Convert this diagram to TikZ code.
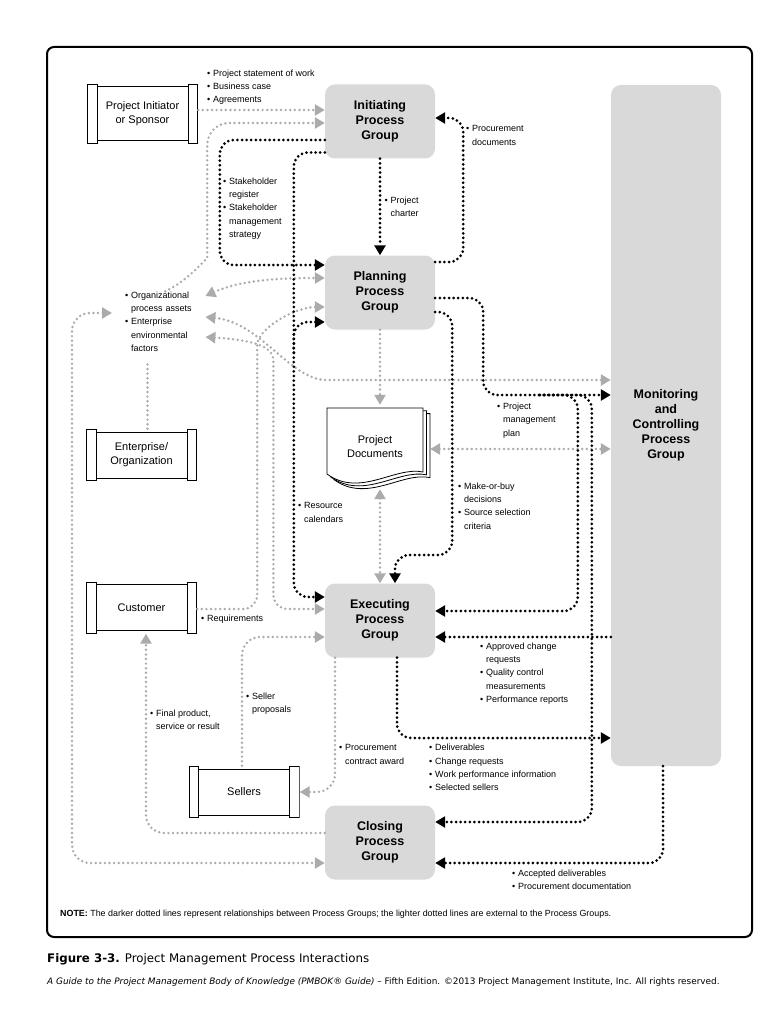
\documentclass[tikz,border=0pt]{standalone}
\usepackage{fontspec}
\setmainfont{Liberation Sans}
\newfontfamily\capfont{DejaVu Sans}
\usetikzlibrary{arrows.meta}
\newcommand{\bul}{\makebox[6pt][l]{\textbullet}}
\newcommand{\skp}{\hspace*{6pt}}
\tikzstyle{group} = [rectangle, rounded corners=10pt, minimum width=110pt, minimum height=74pt, align=center, fill=black!15, font=\bfseries\fontsize{12.5}{15}\selectfont]
\tikzstyle{entity} = [rectangle, minimum width=111pt, minimum height=52pt, align=center, fill=white, font=\fontsize{11}{14}\selectfont, path picture={
  \draw[line width=1pt] ([xshift=0.5pt,yshift=-0.5pt]path picture bounding box.north west) rectangle ([xshift=10pt,yshift=0.5pt]path picture bounding box.south west);
  \draw[line width=1pt] ([xshift=-0.5pt,yshift=-0.5pt]path picture bounding box.north east) rectangle ([xshift=-10pt,yshift=0.5pt]path picture bounding box.south east);
  \draw[line width=1pt] ([xshift=10pt,yshift=-3pt]path picture bounding box.north west) rectangle ([xshift=-10pt,yshift=3pt]path picture bounding box.south east);}]
\tikzstyle{lbl} = [anchor=west, align=left, inner sep=0pt, font=\fontsize{9}{13.3}\selectfont]
\tikzstyle{link} = [line width=3pt, dash pattern=on 0pt off 4.6pt, line cap=round, rounded corners=14pt, ->]
\tikzstyle{extlink} = [link, draw=black!33, line width=2.7pt]

\begin{document}
\begin{tikzpicture}[x=1pt, y=-1pt, >={Triangle[length=10pt,width=11pt]}]
\useasboundingbox (0,0) rectangle (768,1024);
\draw [line width=2pt, rounded corners=7pt] (47,47) rectangle (752,937);

% process groups
\node (0) [group] at (380,121.5) {Initiating\\Process\\Group};
\node (1) [group] at (380,292.5) {Planning\\Process\\Group};
\node (2) [group] at (380,620.5) {Executing\\Process\\Group};
\node (3) [group] at (380,842.5) {Closing\\Process\\Group};
\node (4) [group, minimum height=681pt] at (666,425.5) {Monitoring\\and\\Controlling\\Process\\Group};

% outside the groups
\node (5) [entity, minimum height=60pt] at (142.5,114) {Project Initiator\\or Sponsor};
\node (6) [entity] at (141.5,455) {Enterprise/\\Organization};
\node (7) [entity] at (141.5,607.5) {Customer};
\node (8) [entity] at (244,792) {Sellers};
\node (9) [lbl, text width=70pt] at (125,321.5) {\bul Organizational\\\skp process assets\\\bul Enterprise\\\skp environmental\\\skp factors};

\foreach \s in {7,3.5,0}
  \draw [fill=white, line width=0.8pt] (327+\s,408+0.8*\s) -- ++(96,0) -- ++(0,64) .. controls +(-28,-6) and +(33,24) .. ++(-96,2) -- cycle;
\node (10) [minimum width=96pt, minimum height=84pt, align=center, font=\fontsize{11}{14}\selectfont] at (375,447) {Project\\Documents};

% lighter lines
\draw [extlink] ([yshift=4pt]5.east) -- ([yshift=11.5pt]0.west);
\node [lbl] at (207,87) {\bul Project statement of work\\\bul Business case\\\bul Agreements};
\draw [extlink, rounded corners=22pt] ([xshift=5pt]9.north) .. controls +(25,-12) and +(0,20) .. ++(42,-55) |- ([yshift=-1.5pt]0.west);
\draw [extlink, <->] ([xshift=10pt,yshift=25.5pt]9.east) .. controls +(35,-16) and +(-45,0) .. ([yshift=14.5pt]1.west);
\draw [extlink, <->] ([xshift=10pt,yshift=4.5pt]9.east) .. controls +(55,5) and +(-50,0) .. ++(135,63) -- ([yshift=45.5pt]4.west);
\draw [extlink, <->] ([xshift=10pt,yshift=-15.5pt]9.east) .. controls +(45,3) and +(0,-30) .. ++(68,38) |- ([yshift=11.5pt]2.west);
\draw [extlink] ([yshift=-1.5pt]7.east) -- ++(60,0) -- ++(0,-250) .. controls +(0,-30) and +(-30,0) .. ([yshift=-14.5pt]1.west);
\node [lbl] at (201,619) {\bul Requirements};
\draw [extlink, <->, rounded corners=18pt] ([xshift=-13pt,yshift=8.5pt]9.west) -| ++(-40,200) |- ([yshift=-20.5pt]3.west);
\draw [extlink, rounded corners=18pt] ([yshift=9.5pt]3.west) -| ([xshift=4.5pt]7.south);
\node [lbl] at (150,719.5) {\bul Final product,\\\skp service or result};
\draw [extlink, rounded corners=18pt] ([xshift=-2pt]8.north) |- ([yshift=-16.5pt]2.west);
\node [lbl] at (246,703.5) {\bul Seller\\\skp proposals};
\draw [extlink, rounded corners=18pt] ([xshift=-45pt]2.south) |- (8.east);
\node [lbl] at (339,754.5) {\bul Procurement\\\skp contract award};
\draw [extlink] (1.south) -- (1.south |- 10.north);
\draw [extlink, <->] (2.north |- 10.south) -- (2.north);
\draw [extlink, <->] ([xshift=7pt,yshift=-2pt]10.east) -- ([yshift=-23.5pt]4.west);
\draw [extlink, -] ([xshift=6pt]6.north) -- ++(0,-68);

% darker lines
\draw [link] (0) -- (1) node [lbl, midway, xshift=3pt] {\bul Project\\\skp charter};
\draw [link] ([yshift=-18.5pt]0.west) -- ++(-105,0) |- ([yshift=27.5pt]1.west);
\node [lbl] at (223,208.5) {\bul Stakeholder\\\skp register\\\bul Stakeholder\\\skp management\\\skp strategy};
\draw [link] ([yshift=-31pt]0.west) -- ++(-31,0) |- ([yshift=23.5pt]2.west);
\coordinate (rc) at ([xshift=-31pt,yshift=-60pt]1.west);
\draw [link] (rc) |- ([yshift=-29.5pt]1.west);
\node [lbl] at (298,512.5) {\bul Resource\\\skp calendars};
\draw [link] ([yshift=30.5pt]1.east) -- ++(28,0) |- ([yshift=3.5pt]0.east);
\node [lbl] at (466,135.5) {\bul Procurement\\\skp documents};
\draw [link] ([yshift=-5.5pt]1.east) -- ++(48,0) |- ([yshift=30.5pt]4.west);
\node [lbl] at (497,420.5) {\bul Project\\\skp management\\\skp plan};
\coordinate (pm) at ([xshift=-71pt,yshift=30.5pt]4.west);
\draw [link] (pm) -- ++(38,0) |- ([yshift=9.5pt]2.east);
\draw [link] (pm) -- ++(52,0) |- ([yshift=20.5pt]3.east);
\draw [link] ([yshift=-19.5pt]1.east) -- ++(17,0) -- ++(0,243) -| ([xshift=15pt]2.north);
\node [lbl] at (458,506) {\bul Make-or-buy\\\skp decisions\\\bul Source selection\\\skp criteria};
\draw [link] ([yshift=-211.5pt]4.west) -- ([yshift=-16.5pt]2.east);
\node [lbl] at (480,673.5) {\bul Approved change\\\skp requests\\\bul Quality control\\\skp measurements\\\bul Performance reports};
\draw [link] ([xshift=17pt]2.south) |- ([yshift=-312.5pt]4.west);
\node [lbl] at (429,767.5) {\bul Deliverables\\\bul Change requests\\\bul Work performance information\\\bul Selected sellers};
\draw [link] ([xshift=-3pt]4.south) |- ([yshift=-20.5pt]3.east);
\node [lbl] at (512,879.5) {\bul Accepted deliverables\\\bul Procurement documentation};

% note and caption
\node (11) [lbl, font=\fontsize{8.9}{10}\selectfont] at (60,914) {\textbf{NOTE:} The darker dotted lines represent relationships between Process Groups; the lighter dotted lines are external to the Process Groups.};
\node (12) [lbl, font=\capfont\fontsize{11.8}{14}\selectfont] at (47,959) {\textbf{Figure 3-3.} Project Management Process Interactions};
\node (13) [lbl, font=\capfont\fontsize{8.9}{10}\selectfont] at (47,982) {\textit{A Guide to the Project Management Body of Knowledge (PMBOK® Guide)} – Fifth Edition. ©2013 Project Management Institute, Inc. All rights reserved.};
\end{tikzpicture}
\end{document}
